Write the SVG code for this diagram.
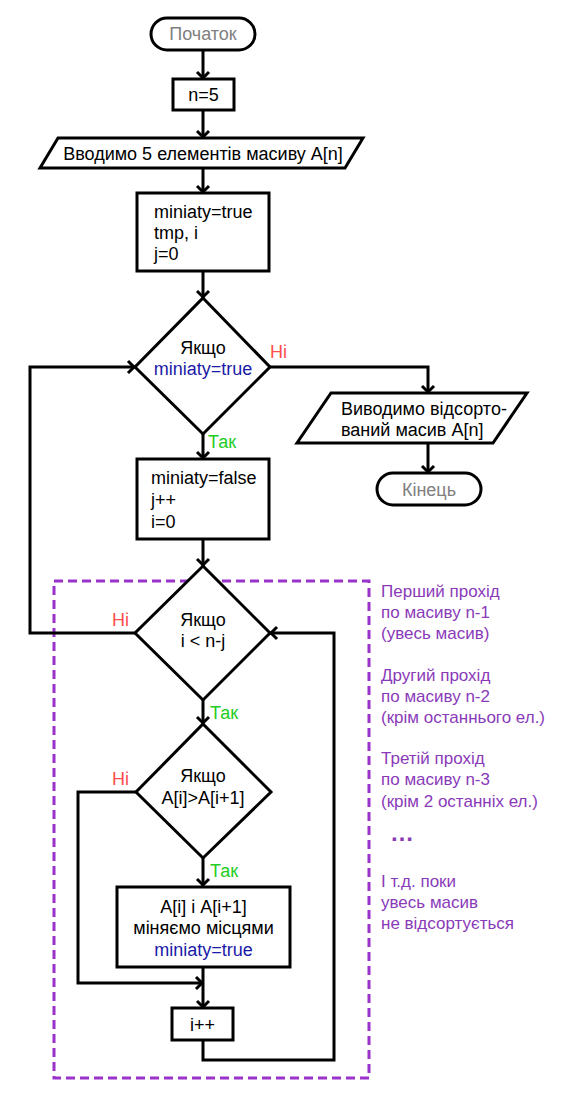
<svg xmlns="http://www.w3.org/2000/svg" width="587" height="1108" viewBox="0 0 587 1108">
<defs>
<style>
.s{fill:#fff;stroke:#000;stroke-width:3}
.c{fill:none;stroke:#000;stroke-width:3}
.t{font-family:"Liberation Sans",Arial,sans-serif;font-size:18px;fill:#000}
.m{text-anchor:middle}
.g{fill:#808080}
.b{fill:#1a1aa8}
.no{font-family:"Liberation Sans",Arial,sans-serif;font-size:18px;fill:#ff4d4d}
.yes{font-family:"Liberation Sans",Arial,sans-serif;font-size:18px;fill:#22cc22}
.p{font-family:"Liberation Sans",Arial,sans-serif;font-size:17px;fill:#8a3ab9}
</style>
<marker id="arr" markerUnits="userSpaceOnUse" markerWidth="20" markerHeight="20" viewBox="-10 -10 20 20" refX="0" refY="0" orient="auto">
<path d="M-7,-6 L-1,0 L-7,6" fill="none" stroke="#000" stroke-width="3"/>
</marker>
</defs>
<rect width="587" height="1108" fill="#fff"/>

<g id="loop-frame">
<rect x="54" y="581" width="315" height="497" fill="none" stroke="#9933cc" stroke-width="3" stroke-dasharray="9,5"/>
</g>

<g id="connectors">
<path class="c" d="M203,50 V79" marker-end="url(#arr)"/>
<path class="c" d="M203,110 V138" marker-end="url(#arr)"/>
<path class="c" d="M203,168 V193" marker-end="url(#arr)"/>
<path class="c" d="M203,271 V298" marker-end="url(#arr)"/>
<path class="c" d="M270,367 H428 V393" marker-end="url(#arr)"/>
<path class="c" d="M428,443 V473" marker-end="url(#arr)"/>
<path class="c" d="M203,434 V459" marker-end="url(#arr)"/>
<path class="c" d="M203,539 V566" marker-end="url(#arr)"/>
<path class="c" d="M135,633 H30 V367 H135" marker-end="url(#arr)"/>
<path class="c" d="M203,700 V724" marker-end="url(#arr)"/>
<path class="c" d="M203,858 V886" marker-end="url(#arr)"/>
<path class="c" d="M136,792 H78 V983 H203" marker-end="url(#arr)"/>
<path class="c" d="M203,967 V1008" marker-end="url(#arr)"/>
<path class="c" d="M203,1040 V1060 H334 V633 H270" marker-end="url(#arr)"/>
</g>

<g id="start">
<rect class="s" x="151" y="18" width="104" height="32" rx="16" ry="16"/>
<text class="t m g" x="203" y="40">Початок</text>
</g>

<g id="n5">
<rect class="s" x="173" y="79" width="61" height="31"/>
<text class="t m" x="203.5" y="101">n=5</text>
</g>

<g id="input">
<polygon class="s" points="58,138 363,138 345,168 40,168"/>
<text class="t m" x="203" y="160">Вводимо 5 елементів масиву A[n]</text>
</g>

<g id="init">
<rect class="s" x="137" y="193" width="132" height="78"/>
<text class="t" x="154" y="218">miniaty=true</text>
<text class="t" x="154" y="239">tmp, i</text>
<text class="t" x="154" y="260">j=0</text>
</g>

<g id="cond1">
<polygon class="s" points="203,298 270,367 203,434 135,367"/>
<text class="t m" x="203" y="354">Якщо</text>
<text class="t m b" x="203" y="375">miniaty=true</text>
<text class="no" x="270" y="358">Ні</text>
<text class="yes" x="208" y="448">Так</text>
</g>

<g id="output">
<polygon class="s" points="331,393 527,393 493,443 297,443"/>
<text class="t" x="341" y="415">Виводимо відсорто-</text>
<text class="t" x="341" y="436">ваний масив A[n]</text>
</g>

<g id="end">
<rect class="s" x="377" y="473" width="104" height="32" rx="16" ry="16"/>
<text class="t m g" x="429" y="496">Кінець</text>
</g>

<g id="reset">
<rect class="s" x="137" y="459" width="132" height="80"/>
<text class="t" x="151" y="484">miniaty=false</text>
<text class="t" x="151" y="506">j++</text>
<text class="t" x="151" y="528">i=0</text>
</g>

<g id="cond2">
<polygon class="s" points="203,566 270,633 203,700 135,633"/>
<text class="t m" x="203" y="626">Якщо</text>
<text class="t m" x="203" y="647">i &lt; n-j</text>
<text class="no" x="112" y="626">Ні</text>
<text class="yes" x="210" y="719">Так</text>
</g>

<g id="cond3">
<polygon class="s" points="203,724 271,792 203,858 136,792"/>
<text class="t m" x="203" y="782">Якщо</text>
<text class="t m" x="203" y="804">A[i]&gt;A[i+1]</text>
<text class="no" x="112" y="785">Ні</text>
<text class="yes" x="210" y="877">Так</text>
</g>

<g id="swap">
<rect class="s" x="117" y="887" width="173" height="80"/>
<text class="t m" x="203.5" y="913">A[i] і A[i+1]</text>
<text class="t m" x="203.5" y="934">міняємо місцями</text>
<text class="t m b" x="203.5" y="956">miniaty=true</text>
</g>

<g id="inc">
<rect class="s" x="172" y="1008" width="61" height="32"/>
<text class="t m" x="202.5" y="1031">i++</text>
</g>

<g id="notes">
<text class="p" x="381" y="597">Перший прохід</text>
<text class="p" x="381" y="618">по масиву n-1</text>
<text class="p" x="381" y="639">(увесь масив)</text>
<text class="p" x="381" y="681">Другий прохід</text>
<text class="p" x="381" y="702">по масиву n-2</text>
<text class="p" x="381" y="723">(крім останнього ел.)</text>
<text class="p" x="381" y="764">Третій прохід</text>
<text class="p" x="381" y="785">по масиву n-3</text>
<text class="p" x="381" y="807">(крім 2 останніх ел.)</text>
<text class="p" x="390" y="841" style="font-size:24px;font-weight:bold">…</text>
<text class="p" x="381" y="887">І т.д. поки</text>
<text class="p" x="381" y="908">увесь масив</text>
<text class="p" x="381" y="929">не відсортується</text>
</g>
</svg>
